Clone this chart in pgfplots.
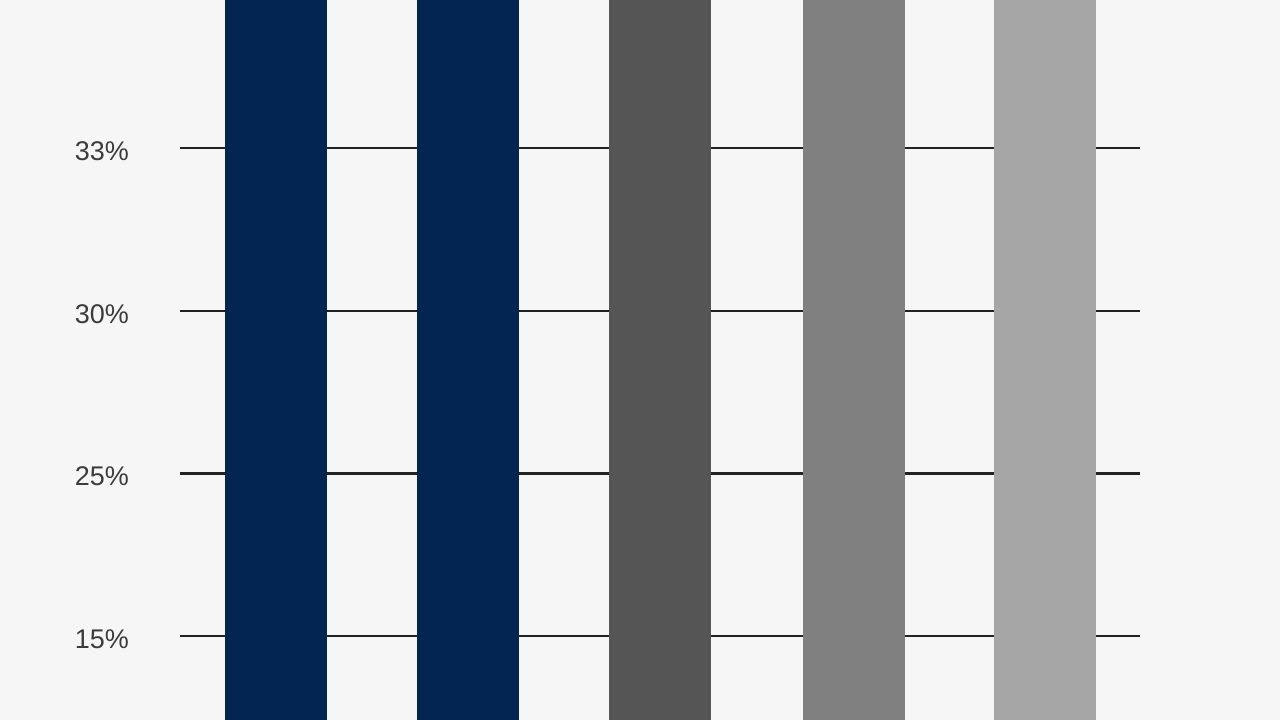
\documentclass[border=0pt]{standalone}
\usepackage{pgfplots}
\pgfplotsset{compat=1.18}
\usepackage{fontspec}
\setmainfont{Liberation Sans}
\usetikzlibrary{backgrounds}
\definecolor{bg}{HTML}{F6F6F6}
\definecolor{navy}{HTML}{02264F}
\definecolor{g1}{HTML}{555555}
\definecolor{g2}{HTML}{808080}
\definecolor{g3}{HTML}{A6A6A6}
\definecolor{grid}{HTML}{222222}
\definecolor{lbl}{HTML}{3C3C3C}
\begin{document}
\begin{tikzpicture}
\begin{axis}[
  scale only axis,
  width=480pt, height=360pt,
  xmin=-0.5, xmax=4.5,
  ymin=0, ymax=4.427,
  axis line style={draw=none},
  tick style={draw=none},
  xtick=\empty,
  ytick={0.516,1.516,2.516,3.516},
  yticklabels={15\%,25\%,30\%,33\%},
  yticklabel style={font=\fontsize{13.5}{16}\selectfont, text=lbl, xshift=-22pt, yshift=-1.5pt},
  ymajorgrids,
  major grid style={draw=grid, line width=1.1pt},
  ybar, bar width=51pt, bar shift=0pt,
  every axis plot/.append style={draw=none},
  clip=true,
]
\addplot[fill=navy] coordinates {(0,10)};
\addplot[fill=navy] coordinates {(1,10)};
\addplot[fill=g1] coordinates {(2,10)};
\addplot[fill=g2] coordinates {(3.01,10)};
\addplot[fill=g3] coordinates {(4.005,10)};
\end{axis}
\path ([xshift=-90pt]current axis.south west) rectangle ([xshift=70pt]current axis.north east);
\begin{scope}[on background layer]
\fill[bg] ([xshift=-90pt]current axis.south west) rectangle ([xshift=70pt]current axis.north east);
\end{scope}
\end{tikzpicture}
\end{document}
